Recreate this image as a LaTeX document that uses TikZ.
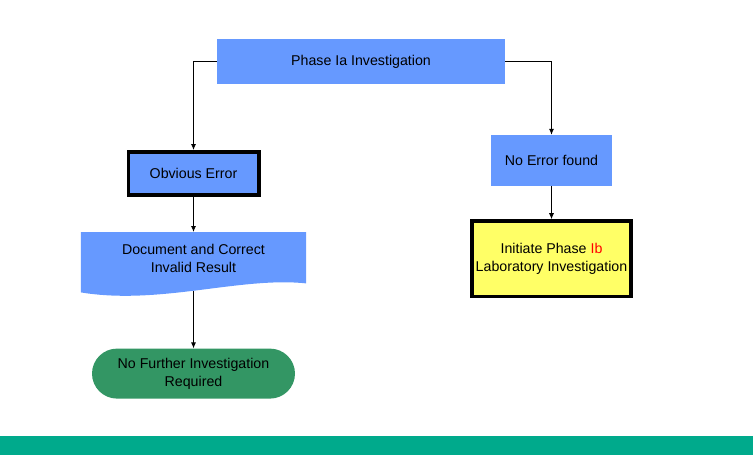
\documentclass[tikz,border=0pt]{standalone}
\usepackage{fontspec}
\setmainfont{Liberation Sans}
\usetikzlibrary{positioning,arrows.meta,backgrounds}
\definecolor{BoxBlue}{RGB}{102,153,255}
\definecolor{BoxYellow}{RGB}{255,255,102}
\definecolor{EndGreen}{RGB}{51,150,100}
\definecolor{BarTeal}{RGB}{0,170,140}

\begin{document}
\begin{tikzpicture}[
    x=1pt, y=1pt,
    node distance=35pt,
    label/.style={font=\fontsize{14.2}{18}\selectfont, align=center, inner sep=0pt, text=black},
    stepbox/.style={rectangle, fill=BoxBlue, label},
    keybox/.style={rectangle, draw=black, line width=3.6pt, label},
    endbox/.style={rectangle, rounded corners=25pt, fill=EndGreen, minimum width=203pt, minimum height=50pt, label},
    flow/.style={-{Latex[length=6pt,width=5pt]}, line width=0.8pt},
]
\useasboundingbox (0,0) rectangle (753,-455);
\fill[BarTeal] (0,-436) rectangle (753,-455);

\node[stepbox, minimum width=288pt, minimum height=45pt] (phaseA) at (361,-61.5) {Phase Ia Investigation};
\node[keybox, fill=BoxBlue, minimum width=130.4pt, minimum height=43.4pt] (obvious) at (193.5,-173.5) {Obvious Error};
\node[stepbox, minimum width=121pt, minimum height=51pt] (noerror) at (551.5,-160.5) {No Error found};
\node[label, minimum width=225pt, minimum height=52pt, below=35pt of obvious] (doc) {Document and Correct\\Invalid Result};
\node[endbox, below=64pt of doc] (noinvest) {No Further Investigation\\Required};
\node[keybox, fill=BoxYellow, minimum width=159.4pt, minimum height=75.4pt, below=33pt of noerror] (initiate)
    {Initiate Phase {\color{red}Ib}\\Laboratory Investigation};

% document shape with wavy bottom
\begin{scope}[on background layer]
\fill[BoxBlue] (doc.north west) -- (doc.north east) -- ([yshift=1pt]doc.south east)
    .. controls ([xshift=-66pt,yshift=8pt]doc.south east) and ([xshift=79pt,yshift=-21pt]doc.south west) .. ([yshift=-8pt]doc.south west) -- cycle;
\end{scope}
\coordinate (docbot) at ([yshift=-7pt]doc.south);

\draw[flow] (phaseA.west) -| (obvious.north);
\draw[flow] (phaseA.east) -| (noerror.north);
\draw[flow] (obvious) -- (doc);
\draw[flow] (docbot) -- (noinvest);
\draw[flow] (noerror) -- (initiate);
\end{tikzpicture}
\end{document}
